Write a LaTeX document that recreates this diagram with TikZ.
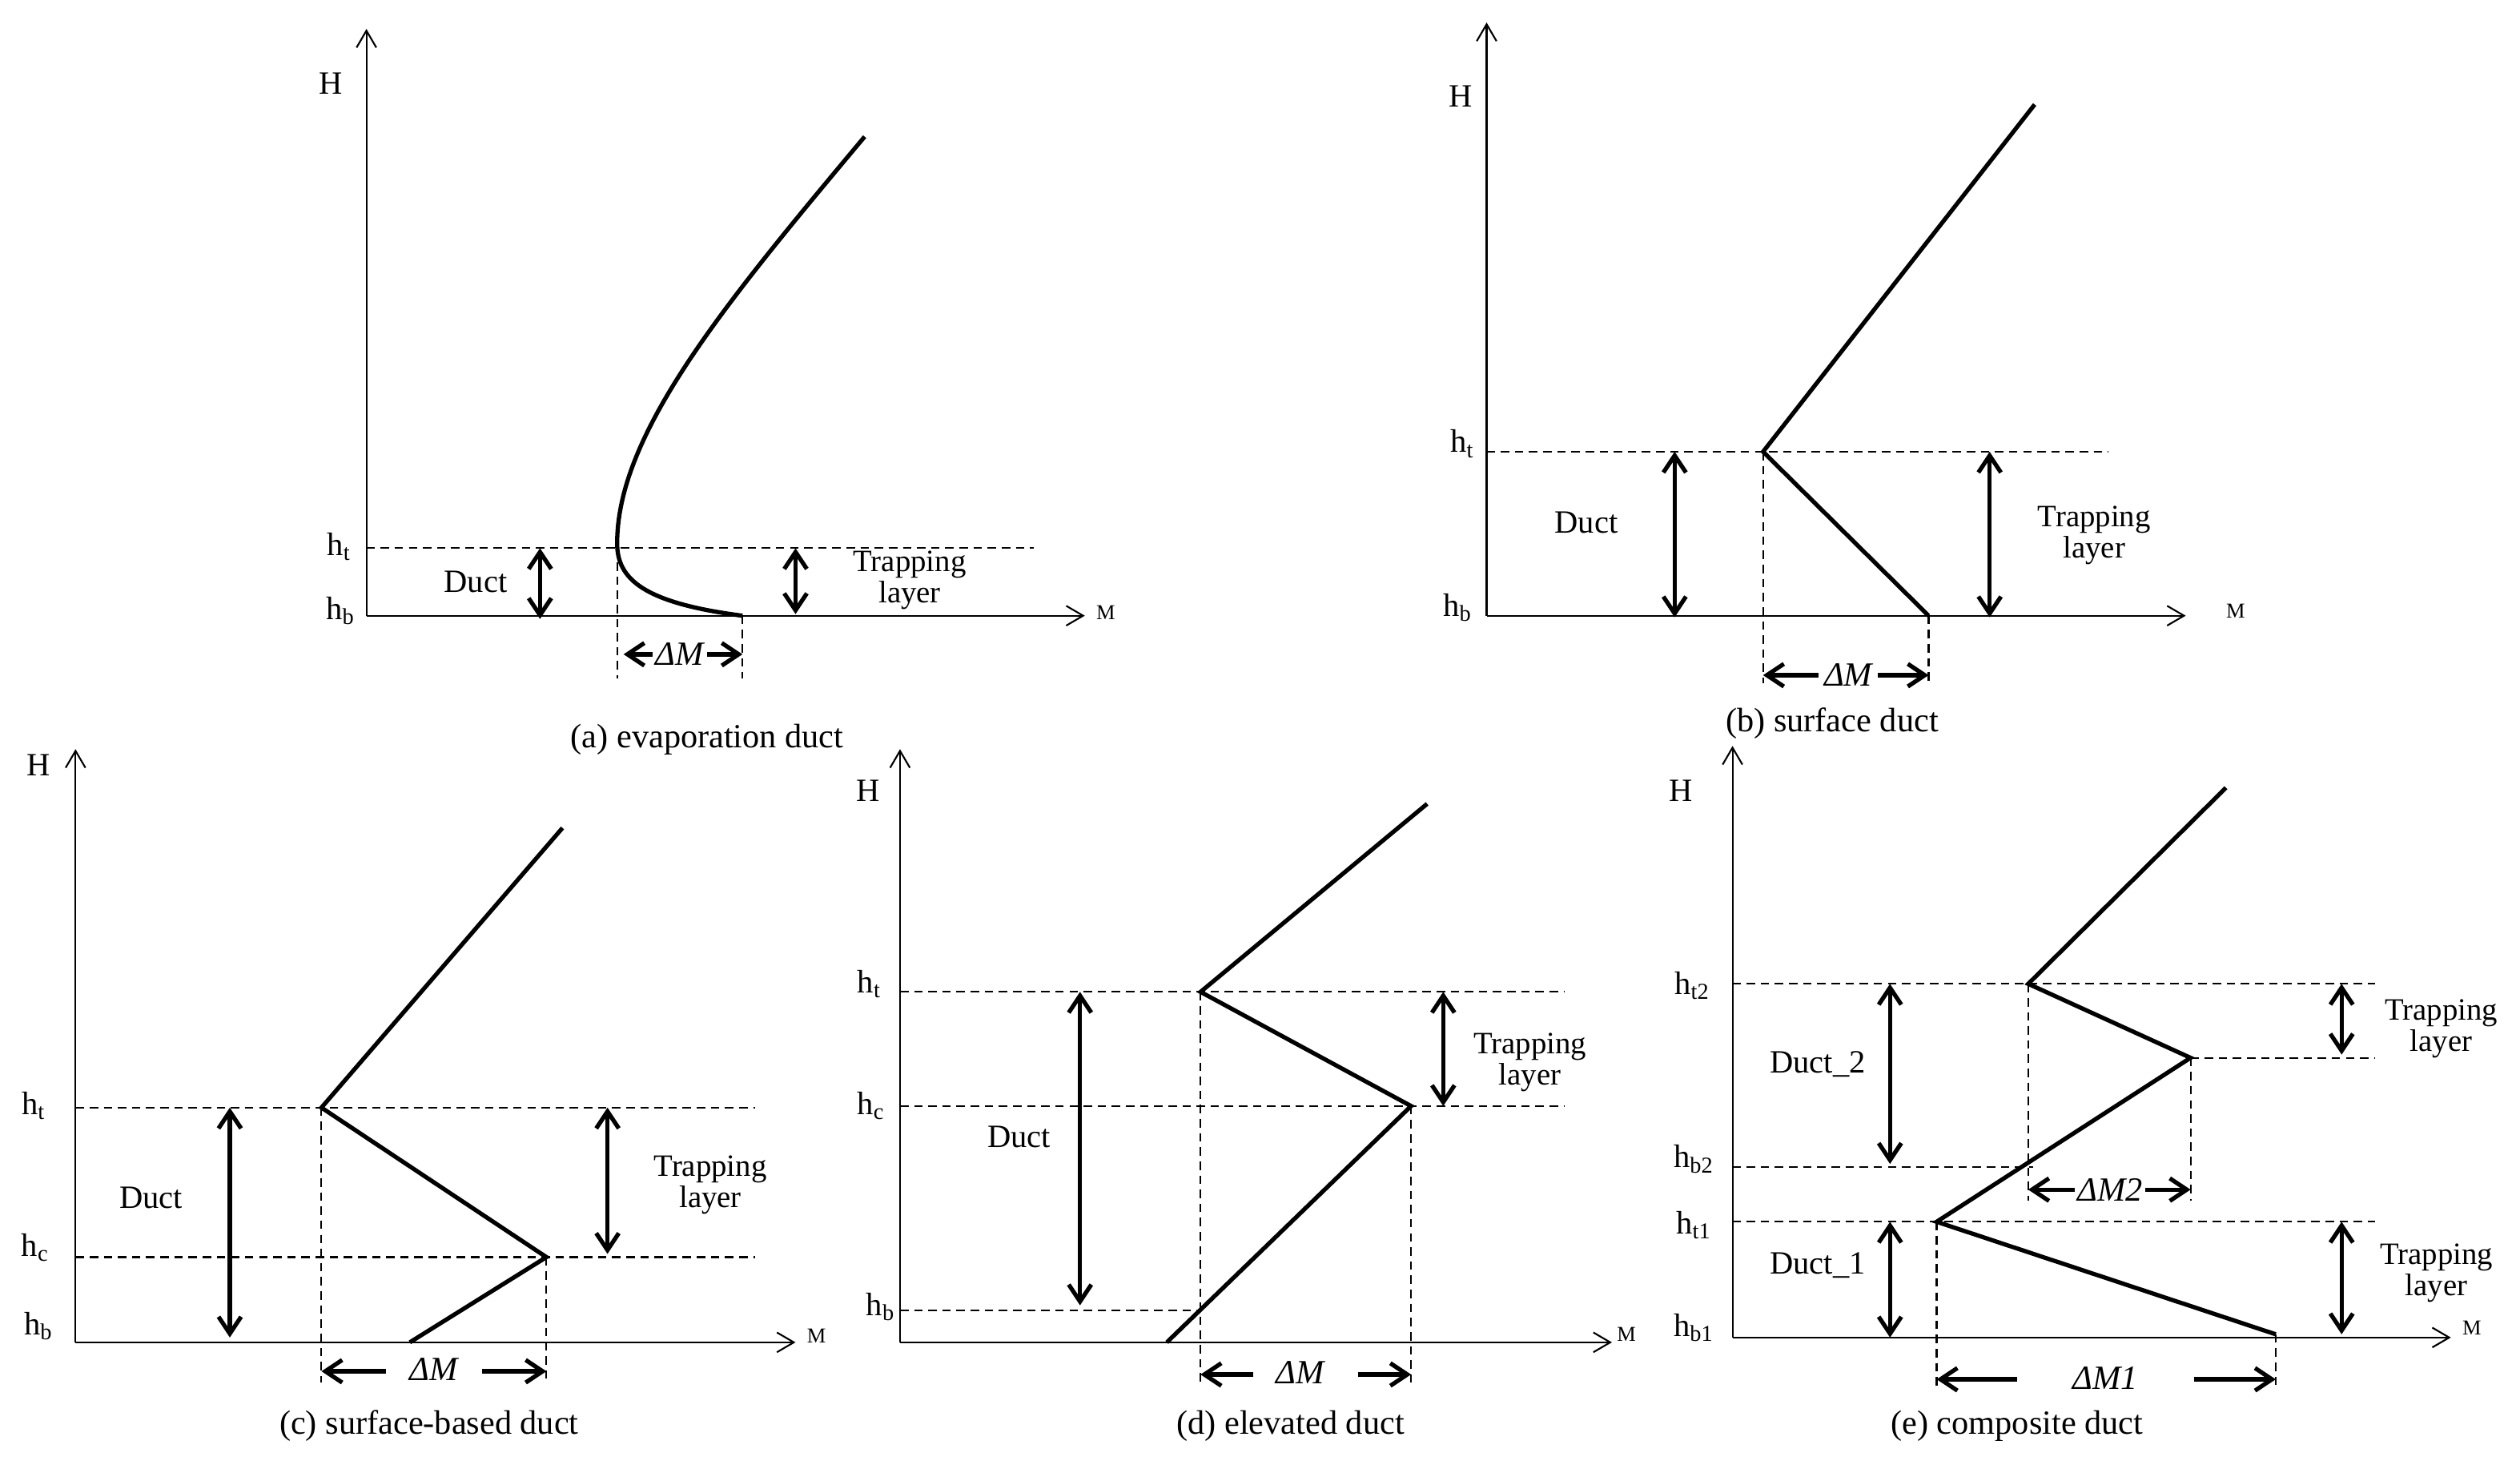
\documentclass[tikz,border=0pt]{standalone}
\usepackage{fontspec}
\setmainfont{Liberation Serif}
\usetikzlibrary{arrows.meta}
\tikzset{
 ax/.style={line width=0.6pt,-{Straight Barb[length=6pt,width=7pt]}},
 prof/.style={line width=1.5pt,line join=miter},
 dsh/.style={line width=0.6pt,dash pattern=on 3pt off 2pt},
 dbl/.style={line width=1.5pt,{Straight Barb[length=6pt,width=8pt]}-{Straight Barb[length=6pt,width=8pt]}},
 sgl/.style={line width=1.5pt,-{Straight Barb[length=6pt,width=8pt]}},
 lab/.style={font=\fontsize{11.5}{12}\selectfont,inner sep=0pt},
 captxt/.style={font=\fontsize{12}{13}\selectfont,inner sep=0pt},
 tl/.style={font=\fontsize{11}{11}\selectfont,align=center,inner sep=0pt},
 ml/.style={font=\fontsize{7.5}{8}\selectfont,inner sep=0pt},
 dm/.style={font=\fontsize{12}{13}\selectfont\itshape,inner sep=0pt}
}
\begin{document}
\begin{tikzpicture}[x=0.02cm,y=-0.02cm]
\useasboundingbox (0,0) rectangle (1568,916);
% ---------- (a)
\draw[ax] (228,383) -- (228,18);
\draw[ax] (228,383) -- (675,383);
\node[ml] at (688,381) {M};
\node[lab] at (206,52) {H};
\node[lab] at (211,340) {h\textsubscript{t}};
\node[lab] at (212,380) {h\textsubscript{b}};
\draw[dsh] (228,341) -- (643,341);
\draw[prof] (462,383) .. controls (400,375) and (384,360) .. (384,338) .. controls (384,270) and (450,190) .. (538,85);
\draw[dsh] (384,341) -- (384,422);
\draw[dsh] (462,383) -- (462,422);
\draw[dbl] (388,407) -- (462,407);
\node[dm,fill=white,inner xsep=1pt] at (423,407) {ΔM};
\node[lab] at (296,362) {Duct};
\draw[dbl] (336,341) -- (336,385);
\draw[dbl] (495,341) -- (495,382);
\node[tl] at (566,361) {Trapping\\layer};
\node[captxt] at (440,460) {(a) evaporation duct};
% ---------- (b)
\draw[ax] (925,383) -- (925,14);
\draw[ax] (925,383) -- (1360,383);
\node[ml] at (1391,380) {M};
\node[lab] at (909,60) {H};
\node[lab] at (910,276) {h\textsubscript{t}};
\node[lab] at (907,378) {h\textsubscript{b}};
\draw[dsh] (925,281) -- (1312,281);
\draw[prof] (1200,383) -- (1097,281) -- (1266,65);
\draw[dsh] (1097,281) -- (1097,425);
\draw[dsh] (1200,383) -- (1200,425);
\draw[dbl] (1097,420) -- (1200,420);
\node[dm,fill=white,inner xsep=2pt] at (1150,420) {ΔM};
\node[lab] at (987,325) {Duct};
\draw[dbl] (1042,281) -- (1042,384);
\draw[dbl] (1238,281) -- (1238,384);
\node[tl] at (1303,333) {Trapping\\layer};
\node[captxt] at (1140,450) {(b) surface duct};
% ---------- (c)
\draw[ax] (47,835) -- (47,466);
\draw[ax] (47,835) -- (495,835);
\node[ml] at (508,831) {M};
\node[lab] at (24,476) {H};
\node[lab] at (21,688) {h\textsubscript{t}};
\node[lab] at (22,776) {h\textsubscript{c}};
\node[lab] at (24,825) {h\textsubscript{b}};
\draw[dsh] (47,689) -- (470,689);
\draw[dsh] (47,782) -- (470,782);
\draw[prof] (255,835) -- (340,782) -- (200,689) -- (350,515);
\draw[dsh] (200,689) -- (200,860);
\draw[dsh] (340,782) -- (340,860);
\draw[sgl] (240,853) -- (200,853);
\draw[sgl] (300,853) -- (340,853);
\node[dm] at (270,852) {ΔM};
\node[lab] at (94,745) {Duct};
\draw[dbl] (143,689) -- (143,832);
\draw[dbl] (378,689) -- (378,780);
\node[tl] at (442,737) {Trapping\\layer};
\node[captxt] at (267,887) {(c) surface-based duct};
% ---------- (d)
\draw[ax] (560,835) -- (560,466);
\draw[ax] (560,835) -- (1003,835);
\node[ml] at (1012,830) {M};
\node[lab] at (540,492) {H};
\node[lab] at (541,612) {h\textsubscript{t}};
\node[lab] at (542,688) {h\textsubscript{c}};
\node[lab] at (548,813) {h\textsubscript{b}};
\draw[dsh] (560,617) -- (973,617);
\draw[dsh] (560,688) -- (973,688);
\draw[dsh] (560,815) -- (745,815);
\draw[prof] (726,835) -- (878,688) -- (747,617) -- (888,500);
\draw[dsh] (747,617) -- (747,860);
\draw[dsh] (878,688) -- (878,860);
\draw[sgl] (780,855) -- (747,855);
\draw[sgl] (845,855) -- (878,855);
\node[dm] at (809,854) {ΔM};
\node[lab] at (634,707) {Duct};
\draw[dbl] (672,617) -- (672,812);
\draw[dbl] (898,617) -- (898,688);
\node[tl] at (952,661) {Trapping\\layer};
\node[captxt] at (803,887) {(d) elevated duct};
% ---------- (e)
\draw[ax] (1078,832) -- (1078,464);
\draw[ax] (1078,832) -- (1525,832);
\node[ml] at (1538,826) {M};
\node[lab] at (1046,492) {H};
\node[lab] at (1053,613) {h\textsubscript{t2}};
\node[lab] at (1054,721) {h\textsubscript{b2}};
\node[lab] at (1054,762) {h\textsubscript{t1}};
\node[lab] at (1054,826) {h\textsubscript{b1}};
\draw[dsh] (1078,612) -- (1478,612);
\draw[dsh] (1363,658) -- (1478,658);
\draw[dsh] (1078,726) -- (1265,726);
\draw[dsh] (1078,760) -- (1478,760);
\draw[prof] (1416,830) -- (1205,760) -- (1363,658) -- (1262,612) -- (1385,490);
\draw[dsh] (1262,612) -- (1262,747);
\draw[dsh] (1363,658) -- (1363,747);
\draw[dsh] (1205,760) -- (1205,865);
\draw[dsh] (1416,830) -- (1416,865);
\draw[dbl] (1262,740) -- (1363,740);
\node[dm,fill=white,inner xsep=1pt] at (1313,740) {ΔM2};
\draw[sgl] (1255,858) -- (1205,858);
\draw[sgl] (1365,858) -- (1416,858);
\node[dm] at (1310,857) {ΔM1};
\node[lab] at (1131,662) {Duct\_2};
\draw[dbl] (1176,612) -- (1176,724);
\node[lab] at (1131,787) {Duct\_1};
\draw[dbl] (1176,760) -- (1176,832);
\draw[dbl] (1457,612) -- (1457,656);
\node[tl] at (1519,640) {Trapping\\layer};
\draw[dbl] (1457,760) -- (1457,830);
\node[tl] at (1516,792) {Trapping\\layer};
\node[captxt] at (1255,887) {(e) composite duct};
\end{tikzpicture}
\end{document}
